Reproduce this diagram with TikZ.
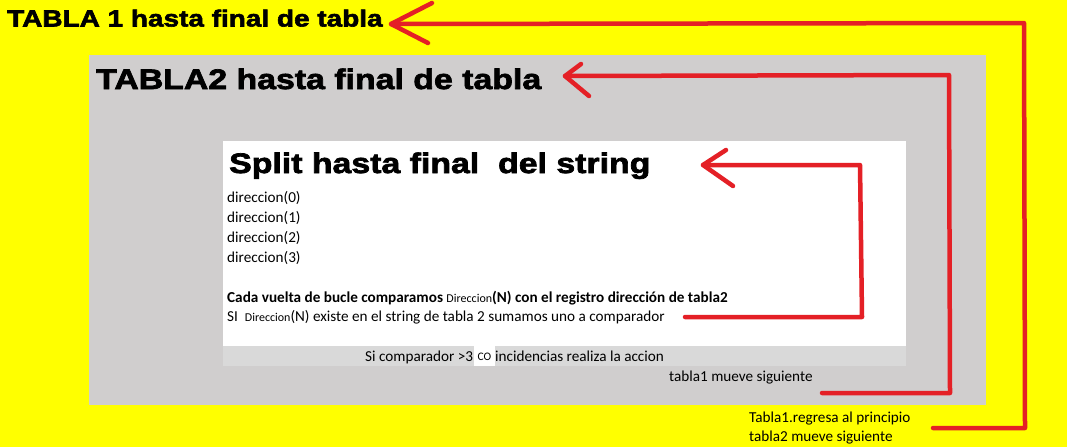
\documentclass[tikz,border=0pt]{standalone}
\usepackage{fontspec}
\setmainfont{Carlito}
\newfontfamily\hfont[FakeStretch=1.2,FakeBold=2.5]{Liberation Sans Bold}
\definecolor{bgyellow}{RGB}{255,255,0}
\definecolor{tgray}{RGB}{208,206,206}
\definecolor{sgray}{RGB}{217,217,217}
\definecolor{penred}{RGB}{228,32,38}
\tikzset{
  txt/.style={anchor=base west, inner sep=0pt, font=\fontsize{15.2}{17}\selectfont},
  hd/.style={anchor=base west, inner sep=0pt},
  pen/.style={draw=penred, line width=4.5pt, line cap=round, line join=round},
}
\begin{document}
\begin{tikzpicture}[x=1pt,y=-1pt]
\useasboundingbox (0,0) rectangle (1067,447);
% backgrounds
\fill[bgyellow] (0,0) rectangle (1067,447);
\fill[tgray] (89,55) rectangle (986,405);
\fill[white] (223,141) rectangle (906,346);
\fill[sgray] (223,346) rectangle (906,366);
% headings
\node[hd, font=\hfont\fontsize{23.3}{26}\selectfont] (t1) at (7,26.5) {TABLA 1 hasta final de tabla};
\node[hd, font=\hfont\fontsize{28.2}{32}\selectfont] (t2) at (96,89) {TABLA2 hasta final de tabla};
\node[hd, font=\hfont\fontsize{28.2}{32}\selectfont] (t3) at (229,173) {Split hasta final\ \ del string};
% body text
\node[txt] (d0) at (227,202.5) {direccion(0)};
\node[txt] (d1) at (227,222.5) {direccion(1)};
\node[txt] (d2) at (227,242.5) {direccion(2)};
\node[txt] (d3) at (227,262.5) {direccion(3)};
\node[txt] (cada) at (227,302) {\bfseries Cada vuelta de bucle comparamos {\mdseries\fontsize{12}{13}\selectfont Direccion}(N) con el registro dirección de tabla2};
\node[txt] (si) at (227,321) {SI\ \ {\fontsize{12}{13}\selectfont Direccion}(N) existe en el string de tabla 2 sumamos uno a comparador};
\node[txt] (s1) at (365,361.5) {Si comparador >3};
\node[fill=white, inner sep=0pt, minimum width=21pt, minimum height=20pt] (co) at (484,356) {};
\node[txt, font=\fontsize{11.5}{13}\selectfont] (cot) at (477.5,360) {CO};
\node[txt] (s2) at (495,361.5) {incidencias realiza la accion};
\node[txt] (m1) at (669,381) {tabla1 mueve siguiente};
\node[txt] (m2) at (749,422) {Tabla1.regresa al principio};
\node[txt] (m3) at (749,441.5) {tabla2 mueve siguiente};
% arrow 1 (outer)
\coordinate (a1tip) at (391,24);
\coordinate (a1u) at (432,3);
\coordinate (a1l) at (428,43);
\coordinate (a1c) at (1024,23);
\coordinate (a1d) at (1025,428);
\coordinate (a1e) at (933,428);
\draw[pen] (a1e) -- (a1d) -- (a1c) -- (a1tip);
\draw[pen] (a1u) -- (a1tip) -- (a1l);
% arrow 2
\coordinate (a2tip) at (565,76);
\coordinate (a2u) at (581,64);
\coordinate (a2l) at (589,96);
\coordinate (a2c) at (949,75);
\coordinate (a2d) at (950,393);
\coordinate (a2e) at (822,393);
\draw[pen] (a2e) -- (a2d) -- (a2c) -- (a2tip);
\draw[pen] (a2u) -- (a2tip) -- (a2l);
% arrow 3 (inner)
\coordinate (a3tip) at (703,165);
\coordinate (a3u) at (726,150);
\coordinate (a3l) at (733,186);
\coordinate (a3c) at (860,165);
\coordinate (a3d) at (862,317);
\coordinate (a3e) at (685,317);
\draw[pen] (a3e) -- (a3d) -- (a3c) -- (a3tip);
\draw[pen] (a3u) -- (a3tip) -- (a3l);
\end{tikzpicture}
\end{document}
